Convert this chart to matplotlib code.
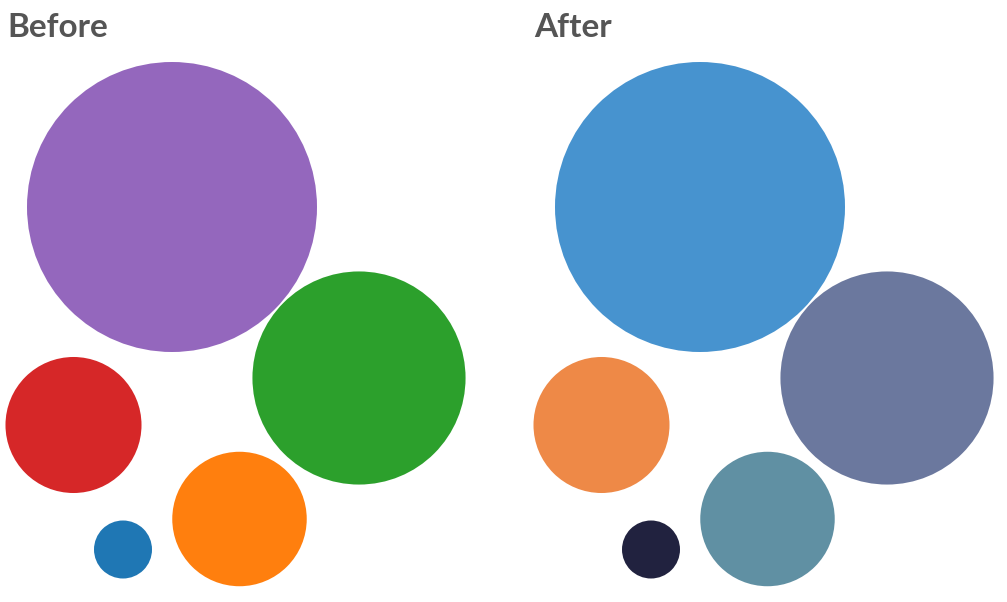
import numpy as np
import matplotlib.pyplot as plt
from matplotlib.patches import Circle

# bubble values (area-proportional)
values = [100, 54, 22, 21.5, 4]
before_colors = ["#9467bd", "#2ca02c", "#d62728", "#ff7f0e", "#1f77b4"]
after_colors = ["#4793cf", "#6b789e", "#ee8947", "#6090a3", "#21223f"]
panel_titles = ["Before", "After"]

# packed layout (pixel space of one panel)
cx = [172, 359, 73.5, 239.5, 123]
cy = [207, 378, 425, 519, 549.5]
r_max = 145
panel_offset = [0, 528]
title_x = [7, 534]

W, H = 1007, 602
fig = plt.figure(figsize=(W / 100, H / 100), dpi=100)
ax = fig.add_axes([0, 0, 1, 1])
ax.set_xlim(0, W)
ax.set_ylim(H, 0)
ax.set_aspect("equal")
ax.axis("off")

for title, colors, off, tx in zip(panel_titles, [before_colors, after_colors], panel_offset, title_x):
    for v, x, y, c in zip(values, cx, cy, colors):
        r = r_max * np.sqrt(v / values[0])
        ax.add_patch(Circle((x + off, y), r, facecolor=c, edgecolor="none"))
    ax.text(tx, 37, title, fontsize=24, fontweight="bold", color="#555555",
            family=["Lato", "DejaVu Sans"], ha="left", va="baseline")

fig.savefig("out.png", dpi=100)
